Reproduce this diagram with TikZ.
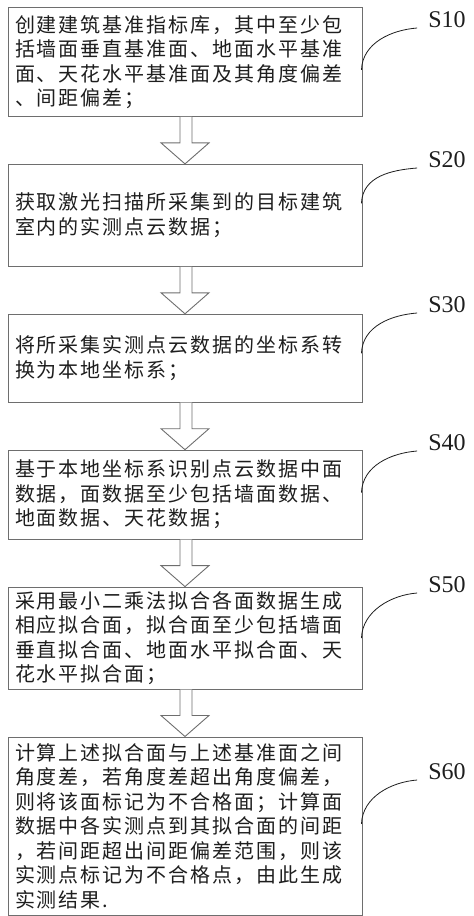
\documentclass[tikz,border=0pt]{standalone}
\usepackage{fontspec}
\setmainfont{Liberation Serif}
\newfontfamily\cjk[LetterSpace=10]{Noto Sans CJK SC}
\usetikzlibrary{positioning, calc}
\definecolor{linegray}{RGB}{110,110,110}
\definecolor{textgray}{RGB}{30,30,30}

\begin{document}
\begin{tikzpicture}[x=1pt, y=-1pt, node distance=47pt,
  stepbox/.style={rectangle, draw=linegray, line width=0.9pt, text width=340pt,
    inner xsep=7pt, inner ysep=3pt, align=left, text=textgray,
    font=\cjk\fontsize{20}{24.5}\selectfont},
  steplabel/.style={font=\fontsize{24}{24}\selectfont, text=textgray, inner sep=2pt},
  flow/.style={draw=linegray, line width=0.9pt, fill=white},
  tag/.style={draw=textgray, line width=0.8pt}]

\useasboundingbox (0,0) rectangle (474,916);

% steps
\node[stepbox, minimum height=109pt, anchor=north] (s1) at (185,7)
  {创建建筑基准指标库，其中至少包\\括墙面垂直基准面、地面水平基准\\面、天花水平基准面及其角度偏差\\、间距偏差；};
\node[stepbox, minimum height=102pt, below=of s1] (s2)
  {获取激光扫描所采集到的目标建筑\\室内的实测点云数据；};
\node[stepbox, minimum height=88pt, below=of s2] (s3)
  {将所采集实测点云数据的坐标系转\\换为本地坐标系；};
\node[stepbox, minimum height=89pt, below=of s3] (s4)
  {基于本地坐标系识别点云数据中面\\数据，面数据至少包括墙面数据、\\地面数据、天花数据；};
\node[stepbox, minimum height=102pt, below=of s4] (s5)
  {采用最小二乘法拟合各面数据生成\\相应拟合面，拟合面至少包括墙面\\垂直拟合面、地面水平拟合面、天\\花水平拟合面；};
\node[stepbox, minimum height=178pt, below=of s5] (s6)
  {计算上述拟合面与上述基准面之间\\角度差，若角度差超出角度偏差，\\则将该面标记为不合格面；计算面\\数据中各实测点到其拟合面的间距\\，若间距超出间距偏差范围，则该\\实测点标记为不合格点，由此生成\\实测结果.};

% step labels
\node[steplabel] (l1) at (447,20) {S10};
\node[steplabel] (l2) at (447,160) {S20};
\node[steplabel] (l3) at (447,305) {S30};
\node[steplabel] (l4) at (447,443) {S40};
\node[steplabel] (l5) at (447,585) {S50};
\node[steplabel] (l6) at (447,772) {S60};

% hollow arrows
\foreach \a/\b in {s1/s2, s2/s3, s3/s4, s4/s5, s5/s6}
  \draw[flow] ($(\a.south)+(-5,0)$) -- ($(\b.north)+(-5,-21)$) -- ($(\b.north)+(-24,-21)$)
    -- (\b.north) -- ($(\b.north)+(24,-21)$) -- ($(\b.north)+(7,-21)$) -- ($(\a.south)+(7,0)$);

% leader curves
\foreach \n/\dy in {1/8, 2/-12, 3/-5, 4/-2, 5/0, 6/-2}
  \draw[tag] ($(s\n.east)+(-1,\dy)$) .. controls +(1,-27) and +(-26,2) .. ($(l\n.west)+(-9,8)$);

\end{tikzpicture}
\end{document}
